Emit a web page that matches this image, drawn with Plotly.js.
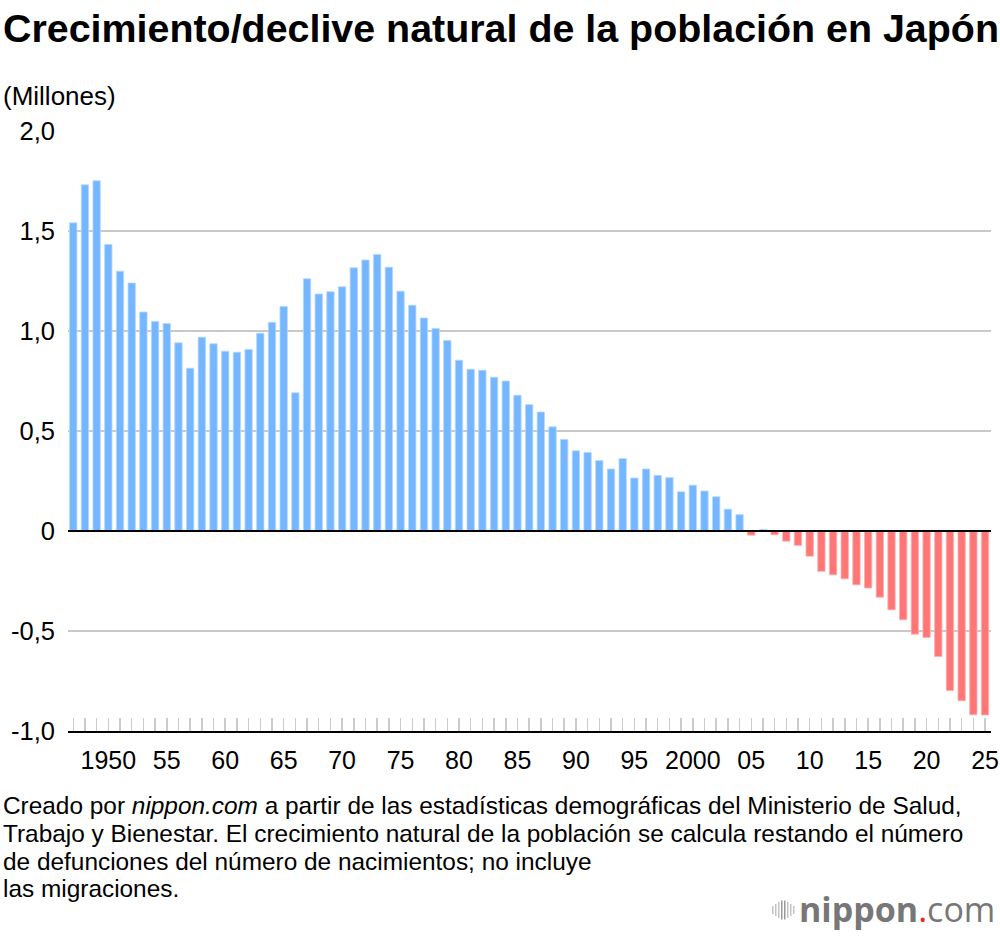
<!DOCTYPE html>
<html>
<head>
<meta charset="utf-8">
<script src="https://cdn.plot.ly/plotly-3.0.1.min.js"></script>
<style>
  html, body { margin: 0; padding: 0; background: #ffffff; }
  #chart { width: 1000px; height: 936px; }
</style>
</head>
<body>
<div id="chart"></div>
<script>
// Natural population change in Japan (births minus deaths), in millions
const years = [
  1947, 1948, 1949, 1950, 1951, 1952, 1953, 1954, 1955, 1956,
  1957, 1958, 1959, 1960, 1961, 1962, 1963, 1964, 1965, 1966,
  1967, 1968, 1969, 1970, 1971, 1972, 1973, 1974, 1975, 1976,
  1977, 1978, 1979, 1980, 1981, 1982, 1983, 1984, 1985, 1986,
  1987, 1988, 1989, 1990, 1991, 1992, 1993, 1994, 1995, 1996,
  1997, 1998, 1999, 2000, 2001, 2002, 2003, 2004, 2005, 2006,
  2007, 2008, 2009, 2010, 2011, 2012, 2013, 2014, 2015, 2016,
  2017, 2018, 2019, 2020, 2021, 2022, 2023, 2024, 2025
];
const naturalChange = [
  1.541, 1.731, 1.751, 1.433, 1.299, 1.240, 1.095, 1.048, 1.037, 0.941,
  0.814, 0.969, 0.936, 0.899, 0.894, 0.908, 0.989, 1.044, 1.123, 0.691,
  1.261, 1.185, 1.196, 1.221, 1.316, 1.355, 1.383, 1.319, 1.199, 1.129,
  1.065, 1.013, 0.953, 0.854, 0.809, 0.804, 0.769, 0.750, 0.679, 0.632,
  0.595, 0.521, 0.458, 0.401, 0.393, 0.352, 0.310, 0.362, 0.265, 0.310,
  0.278, 0.267, 0.196, 0.229, 0.200, 0.171, 0.109, 0.082, -0.021, 0.008,
  -0.019, -0.051, -0.072, -0.126, -0.202, -0.219, -0.239, -0.269, -0.285, -0.331,
  -0.394, -0.444, -0.516, -0.532, -0.628, -0.798, -0.849, -0.919, -0.920
];

const yTickValues = [-1, -0.5, 0, 0.5, 1, 1.5, 2];
const yTickLabels = ['-1,0', '-0,5', '0', '0,5', '1,0', '1,5', '2,0'];

const xLabelYears = [1950, 1955, 1960, 1965, 1970, 1975, 1980, 1985, 1990, 1995, 2000, 2005, 2010, 2015, 2020, 2025];
const xLabelTexts = ['1950', '55', '60', '65', '70', '75', '80', '85', '90', '95', '2000', '05', '10', '15', '20', '25'];

const noteLines = [
  'Creado por <i>nippon.com</i> a partir de las estadísticas demográficas del Ministerio de Salud,',
  'Trabajo y Bienestar. El crecimiento natural de la población se calcula restando el número',
  'de defunciones del número de nacimientos; no incluye',
  'las migraciones.'
];

// Page geometry (pixels)
const W = 1000, H = 936;
const M = { l: 68, r: 9, t: 131, b: 205 };
const plotW = W - M.l - M.r;
const plotH = H - M.t - M.b;
const px = x => (x - M.l) / plotW;          // page x -> paper x
const py = y => (H - M.b - y) / plotH;      // page y -> paper y

const FONT = 'Liberation Sans, Arial, Helvetica, sans-serif';
const BLUE = '#74b6ff', RED = '#ff7676';

// one tick per year, labels only every five years
const tickText = years.map(y => {
  const i = xLabelYears.indexOf(y);
  return i >= 0 ? xLabelTexts[i] : '';
});

const barColors = naturalChange.map(v => v >= 0 ? BLUE : RED);
const barEdges = naturalChange.map(v => v >= 0 ? '#b5d8ff' : '#ffb3b3');

const trace = {
  type: 'bar',
  x: years,
  y: naturalChange,
  marker: { color: barColors, line: { color: barEdges, width: 0.8 } },
  hoverinfo: 'x+y'
};

const annotations = [
  {
    text: '(Millones)', xref: 'paper', yref: 'paper',
    x: px(1), y: py(96), xanchor: 'left', yanchor: 'middle',
    showarrow: false, font: { family: FONT, size: 26, color: '#000' }
  }
];
noteLines.forEach((line, i) => {
  annotations.push({
    text: line, xref: 'paper', yref: 'paper',
    x: px(1), y: py(805 + i * 28), xanchor: 'left', yanchor: 'middle',
    showarrow: false, font: { family: FONT, size: 24.4, color: '#000' }
  });
});
annotations.push({
  text: '<b>nippon</b><span style="color:#e8262b">.</span>com',
  xref: 'paper', yref: 'paper',
  x: px(997), y: py(909), xanchor: 'right', yanchor: 'middle',
  showarrow: false, font: { family: 'Open Sans, sans-serif', size: 34, color: '#777777' }
});

// small sound-wave mark beside the logo text
const waveX = [772, 775, 778, 781, 784, 787, 790, 793];
const waveH = [8, 12, 16, 19, 19, 16, 12, 8];
const shapes = waveX.map((x, i) => ({
  type: 'rect', xref: 'paper', yref: 'paper',
  x0: px(x), x1: px(x + 1.5),
  y0: py(910 + waveH[i] / 2), y1: py(910 - waveH[i] / 2),
  fillcolor: i === 3 || i === 4 ? '#9a9a9a' : '#c4c4c4',
  line: { width: 0 }
}));
// baseline at zero, kept above the bars
shapes.push({
  type: 'line', xref: 'paper', yref: 'y',
  x0: 0, x1: 1, y0: 0, y1: 0,
  layer: 'above',
  line: { color: '#000000', width: 2 }
});

const layout = {
  width: W, height: H,
  margin: M,
  paper_bgcolor: '#ffffff',
  plot_bgcolor: '#ffffff',
  showlegend: false,
  bargap: 0.37,
  font: { family: FONT, color: '#000' },
  title: {
    text: '<b>Crecimiento/declive natural de la población en Japón</b>',
    xref: 'container', yref: 'container',
    x: 3 / W, xanchor: 'left',
    y: 1 - 28 / H, yanchor: 'middle',
    font: { family: FONT, size: 39.4, color: '#000' }
  },
  xaxis: {
    range: [1946.55, 2025.51],
    tickvals: years,
    ticktext: tickText,
    ticks: 'inside',
    ticklen: 13,
    tickwidth: 1.5,
    tickcolor: '#cccccc',
    showgrid: false,
    showline: true,
    linecolor: '#000000',
    linewidth: 2,
    zeroline: false,
    tickangle: 0,
    ticklabelstandoff: 6,
    tickfont: { family: FONT, size: 25, color: '#000' },
    fixedrange: true
  },
  yaxis: {
    range: [-1, 2],
    tickvals: yTickValues,
    ticktext: yTickLabels,
    ticks: '',
    showgrid: true,
    gridcolor: '#c9c9c9',
    gridwidth: 1.5,
    zeroline: false,
    showline: false,
    ticklabelstandoff: 12,
    tickfont: { family: FONT, size: 25.5, color: '#000' },
    fixedrange: true
  },
  annotations: annotations,
  shapes: shapes
};

Plotly.newPlot('chart', [trace], layout, { displayModeBar: false, staticPlot: true });
</script>
</body>
</html>
